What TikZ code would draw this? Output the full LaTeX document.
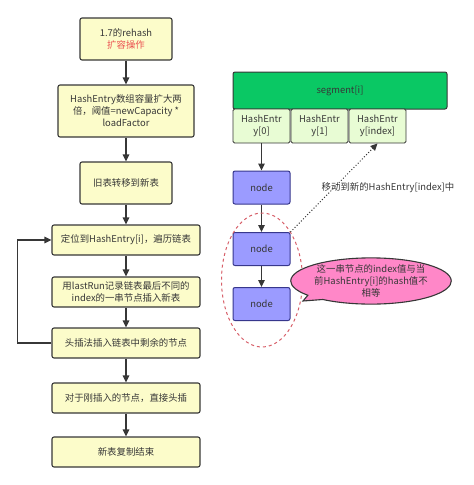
\documentclass[tikz,border=0pt]{standalone}
\usepackage{fontspec}
\setmainfont{Noto Sans CJK SC}
\usepackage{tikz}
\usetikzlibrary{positioning,calc}
\usetikzlibrary{arrows.meta,shapes.geometric,shapes.callouts}
\definecolor{StepFill}{RGB}{252,252,202}
\definecolor{InkGray}{RGB}{55,55,55}
\definecolor{SegGreen}{RGB}{10,200,100}
\definecolor{CellGreen}{RGB}{232,252,212}
\definecolor{NodeBlue}{RGB}{155,155,255}
\definecolor{NodeEdge}{RGB}{55,55,140}
\definecolor{LoopRed}{RGB}{215,95,105}
\definecolor{NotePink}{RGB}{255,135,200}
\definecolor{WarnRed}{RGB}{235,80,80}
\tikzset{
	stepbox/.style={draw=InkGray,fill=StepFill,rounded corners=2pt,line width=1.1pt,
		text=InkGray,align=center,inner sep=2pt,minimum width=148pt,minimum height=30pt},
	cell/.style={draw=InkGray,fill=CellGreen,rounded corners=1.5pt,line width=0.9pt,
		text=InkGray,align=center,inner sep=1pt,minimum width=57pt,minimum height=34pt},
	lnode/.style={draw=NodeEdge,fill=NodeBlue,rounded corners=2pt,line width=1pt,
		text=InkGray,minimum width=57pt,minimum height=33pt},
	flow/.style={draw=InkGray,line width=1.2pt,-{Triangle[length=7pt,width=6.5pt]}},
}

\begin{document}
\begin{tikzpicture}[x=1pt,y=-1pt,font=\fontsize{9.4}{12}\selectfont]
			\useasboundingbox (0,0) rectangle (474,485);
			% left column
			\node[stepbox,minimum width=92pt,minimum height=42pt] (start) at (126,39) {1.7的rehash\\\textcolor{WarnRed}{扩容操作}};
			\node[stepbox,minimum width=136pt,minimum height=52pt] (double) at (126,111) {HashEntry数组容量扩大两\\倍，阈值=newCapacity *\\loadFactor};
			\node[stepbox,minimum width=92pt,minimum height=42pt] (move) at (126,183) {旧表转移到新表};
			\node[stepbox] (locate) at (126,240) {定位到HashEntry[i]，遍历链表};
			\node[stepbox] (lastrun) at (126,292) {用lastRun记录链表最后不同的\\index的一串节点插入新表};
			\node[stepbox] (headins) at (126,343) {头插法插入链表中剩余的节点};
			\node[stepbox] (direct) at (126,398) {对于刚插入的节点，直接头插};
			\node[stepbox] (done) at (126,452) {新表复制结束};
			\foreach \u/\v in {start/double,double/move,move/locate,locate/lastrun,lastrun/headins,headins/direct,direct/done}
			\draw[flow] (\u) -- (\v);
			\draw[flow] (headins.west) -- ++(-34,0) |- (locate.west);
			% right side
			\node[draw=InkGray,fill=SegGreen,rounded corners=2pt,line width=1pt,text=InkGray,
				minimum width=214pt,minimum height=37pt] (seg) at (340,90.5) {segment[i]};
			\node[cell] (he0) at (261.5,126) {HashEntr\\y[0]};
			\node[cell] (he1) at (319.5,126) {HashEntr\\y[1]};
			\node[cell] (heidx) at (377.5,126) {HashEntr\\y[index]};
			\node[lnode] (n1) at (261.5,187.5) {node};
			\node[lnode] (n2) at (261.5,249) {node};
			\node[lnode] (n3) at (261.5,304) {node};
			\foreach \u/\v in {he0/n1,n1/n2,n2/n3}
			\draw[flow] (\u) -- (\v);
			\node[draw=LoopRed,dashed,line width=1pt,ellipse,minimum width=81pt,minimum height=134pt] (group) at (262,280) {};
			\draw[InkGray,line width=1pt,dotted,-{Triangle[length=7pt,width=6.5pt]}] (n2.north east) -- (heidx.south);
			\node[text=InkGray] (movetxt) at (388,188) {移动到新的HashEntry[index]中};
			\node[ellipse callout,draw=InkGray,fill=NotePink,line width=1.1pt,text=InkGray,align=center,
				inner sep=0pt,minimum width=132pt,minimum height=42pt,
				callout absolute pointer={(303,301)}] (note) at (371,281) {这一串节点的index值与当\\前HashEntry[i]的hash值不\\相等};
		\end{tikzpicture}
\end{document}
